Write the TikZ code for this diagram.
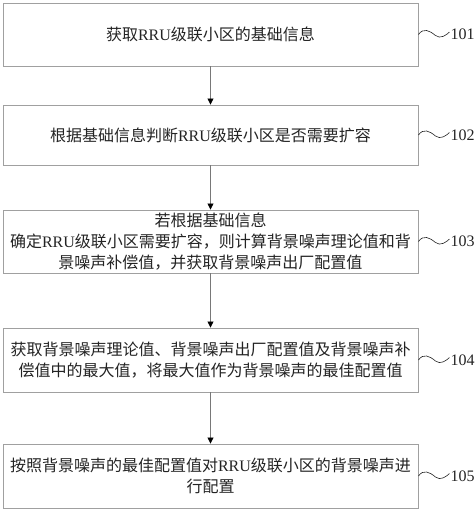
\documentclass[tikz,border=0pt]{standalone}
\usepackage{fontspec}
\setmainfont{Liberation Serif}
\newfontfamily\cjk{Noto Sans CJK SC}
\usetikzlibrary{arrows.meta,calc}
\definecolor{boxgray}{RGB}{160,160,160}
\definecolor{linegray}{RGB}{120,120,120}
\definecolor{textcol}{RGB}{35,35,35}
\newcommand\latinword[1]{{\rmfamily #1}}
\begin{document}
\begin{tikzpicture}[x=1pt,y=1pt,
  box/.style={draw=boxgray, line width=0.9pt, minimum width=415pt, inner sep=0pt,
    align=center, text=textcol, font=\cjk\fontsize{16}{21}\selectfont},
  arr/.style={draw=linegray, line width=0.8pt, -{Triangle[length=6pt,width=6pt,color=black]}},
  lab/.style={anchor=west, inner sep=0pt, text=textcol, font=\rmfamily\fontsize{16}{18}\selectfont},
  squig/.style={draw=textcol, line width=0.6pt}]
\useasboundingbox (0,0) rectangle (474,-511);
\node[box, minimum height=63pt] (b1) at (210.5,-34.5) {获取\latinword{RRU}级联小区的基础信息};
\node[box, minimum height=60pt] (b2) at (210.5,-135) {根据基础信息判断\latinword{RRU}级联小区是否需要扩容};
\node[box, minimum height=63pt] (b3) at (210.5,-241.5) {若根据基础信息\\确定\latinword{RRU}级联小区需要扩容，则计算背景噪声理论值和背\\景噪声补偿值，并获取背景噪声出厂配置值};
\node[box, minimum height=64pt] (b4) at (210.5,-360) {获取背景噪声理论值、背景噪声出厂配置值及背景噪声补\\偿值中的最大值，将最大值作为背景噪声的最佳配置值};
\node[box, minimum height=64pt] (b5) at (210.5,-476) {按照背景噪声的最佳配置值对\latinword{RRU}级联小区的背景噪声进\\行配置};
\draw[arr] (b1) -- (b2);
\draw[arr] (b2) -- (b3);
\draw[arr] (b3) -- (b4);
\draw[arr] (b4) -- (b5);
\foreach \b/\t in {b1/101,b2/102,b3/103,b4/104,b5/105}{
  \node[lab] (l\t) at ($(\b.east)+(32,0)$) {\t};
  \draw[squig] (\b.east) .. controls +(5,7) and +(-6,5) .. ++(17,-1)
     .. controls +(5,-4) and +(-3,-3) .. ($(l\t.west)+(-1,2.5)$);
}
\end{tikzpicture}
\end{document}
